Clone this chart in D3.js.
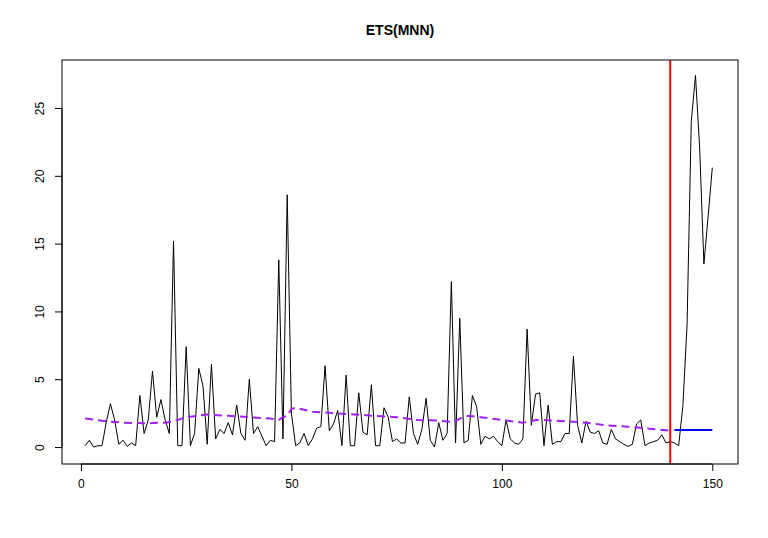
<!DOCTYPE html>
<html><head><meta charset="utf-8">
<script src="https://cdn.jsdelivr.net/npm/d3@7"></script>
<style>body{margin:0;background:#fff}svg{font-family:"Liberation Sans",Arial,sans-serif}</style>
</head><body><div id="chart"></div>
<script>
// observed series, t = 1..150
const series = [0.1,0.5,0.0,0.1,0.1,1.8,3.2,2.0,0.2,0.5,0.05,0.3,0.1,3.8,1.0,2.0,5.6,2.2,3.5,2.0,
1.0,15.2,0.1,0.1,7.4,0.1,1.0,5.8,4.5,0.2,6.1,0.6,1.3,1.0,1.8,0.9,3.1,1.0,0.5,5.0,
1.0,1.5,0.8,0.1,0.5,0.4,13.8,0.6,18.6,2.5,0.1,0.3,1.0,0.1,0.6,1.4,1.5,6.0,1.2,1.7,
2.7,0.1,5.3,0.1,0.1,4.0,1.1,0.9,4.6,0.1,0.1,2.9,2.2,0.4,0.6,0.3,0.3,3.7,1.0,0.2,
1.3,3.6,0.5,0.0,1.8,0.5,1.0,12.2,0.3,9.5,0.3,0.5,3.8,3.0,0.2,0.8,0.6,0.8,0.4,0.1,
2.0,0.6,0.3,0.2,0.6,8.7,1.6,3.9,4.0,0.1,3.1,0.2,0.4,0.4,1.0,1.0,6.7,1.6,0.3,1.9,
1.1,1.0,1.2,0.3,0.2,1.3,0.6,0.4,0.2,0.05,0.2,1.7,2.0,0.1,0.3,0.4,0.5,0.9,0.3,0.4,
0.3,0.1,3.0,9.0,24.0,27.4,22.0,13.5,17.0,20.6];
// fitted level (read at selected times)
const fitT = [1,6,10,15,20,22,25,30,35,40,45,47,48,49,50,51,55,60,65,70,75,80,85,88,89,90,92,95,100,105,107,108,110,115,120,125,130,135,140];
const fitV = [2.1,1.9,1.8,1.75,1.8,1.9,2.2,2.4,2.3,2.2,2.1,2.0,2.2,2.3,2.8,2.9,2.6,2.5,2.4,2.3,2.2,2.0,1.95,1.85,1.9,2.1,2.3,2.2,2.0,1.8,1.9,2.0,2.0,1.9,1.8,1.6,1.5,1.35,1.2];
const fcT = [141,150];
const fcV = [1.25,1.25];
const splitT = 140;
const xTicks = [0,50,100,150];
const yTicks = [0,5,10,15,20,25];

const W = 768, H = 538, L = 62, R = 738, T = 60, B = 464;
const svg = d3.select("#chart").append("svg").attr("width", W).attr("height", H);
const x = d3.scaleLinear().domain([-4.5, 156.1]).range([L, R]);
const y = d3.scaleLinear().domain([-1.25, 28.54]).range([B, T]);

const clip = svg.append("clipPath").attr("id","c").append("rect")
  .attr("x",L).attr("y",T).attr("width",R-L).attr("height",B-T);
const g = svg.append("g").attr("clip-path","url(#c)");

g.append("path").datum(series)
  .attr("fill","none").attr("stroke","#000").attr("stroke-width",1)
  .attr("d", d3.line().x((d,i)=>x(i+1)).y(d=>y(d)));

g.append("path").datum(fitT)
  .attr("fill","none").attr("stroke","#a020f0").attr("stroke-width",2).attr("stroke-dasharray","8,5")
  .attr("d", d3.line().x(d=>x(d)).y((d,i)=>y(fitV[i])));

g.append("path").datum(fcT)
  .attr("fill","none").attr("stroke","#0000ff").attr("stroke-width",2)
  .attr("d", d3.line().x(d=>x(d)).y((d,i)=>y(fcV[i])));

g.append("line").attr("x1",x(splitT)).attr("x2",x(splitT)).attr("y1",T).attr("y2",B)
  .attr("stroke","#ff0000").attr("stroke-width",2);

svg.append("rect").attr("x",L).attr("y",T).attr("width",R-L).attr("height",B-T)
  .attr("fill","none").attr("stroke","#000");

const xa = svg.append("g").attr("transform",`translate(0,${B})`)
  .call(d3.axisBottom(x).tickValues(xTicks).tickSize(7).tickPadding(8).tickSizeOuter(0));
xa.select(".domain").attr("d",`M${x(0)},0H${x(150)}`);
const ya = svg.append("g").attr("transform",`translate(${L},0)`)
  .call(d3.axisLeft(y).tickValues(yTicks).tickSize(7).tickSizeOuter(0));
ya.select(".domain").attr("d",`M0,${y(0)}V${y(25)}`);
ya.selectAll(".tick text").attr("transform","rotate(-90)").attr("x",0).attr("y",-18)
  .attr("dy","0").attr("text-anchor","middle");
svg.selectAll(".tick text").attr("font-size",12).attr("fill","#000");

svg.append("text").attr("x",(L+R)/2).attr("y",35).attr("text-anchor","middle")
  .attr("font-weight","bold").attr("font-size",14).text("ETS(MNN)");
</script></body></html>
